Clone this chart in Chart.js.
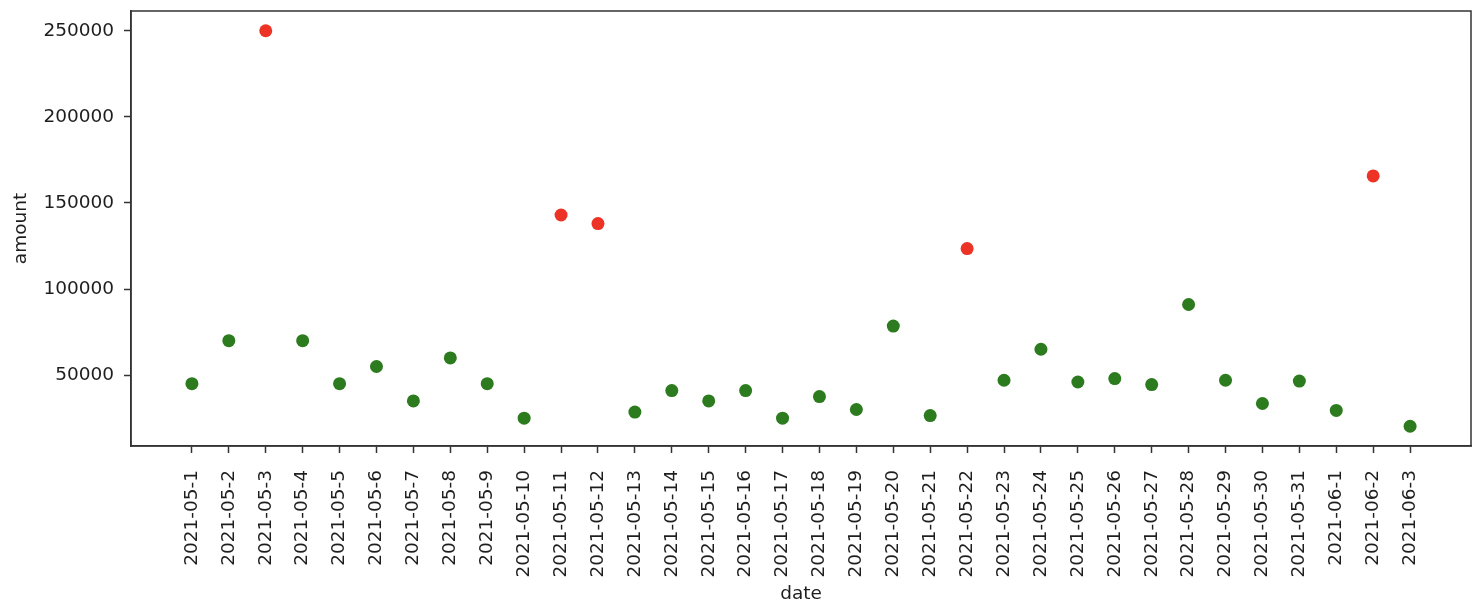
<!DOCTYPE html>
<html>
<head>
<meta charset="utf-8">
<script src="https://cdn.jsdelivr.net/npm/chart.js@4/dist/chart.umd.min.js"></script>
<style>
  html, body { margin: 0; padding: 0; background: #fff; }
  #c { display: block; }
</style>
</head>
<body>
<canvas id="c" width="1480" height="616"></canvas>
<script>
const dates = [
  "2021-05-1","2021-05-2","2021-05-3","2021-05-4","2021-05-5","2021-05-6","2021-05-7",
  "2021-05-8","2021-05-9","2021-05-10","2021-05-11","2021-05-12","2021-05-13","2021-05-14",
  "2021-05-15","2021-05-16","2021-05-17","2021-05-18","2021-05-19","2021-05-20","2021-05-21",
  "2021-05-22","2021-05-23","2021-05-24","2021-05-25","2021-05-26","2021-05-27","2021-05-28",
  "2021-05-29","2021-05-30","2021-05-31","2021-06-1","2021-06-2","2021-06-3"
];
const amounts = [
  45000, 70000, 250000, 70000, 45000, 55000, 35000,
  60000, 45000, 25000, 143000, 138000, 28500, 41000,
  35000, 41000, 25000, 37500, 30000, 78500, 26500,
  123500, 47000, 65000, 46000, 48000, 44500, 91000,
  47000, 33500, 46500, 29500, 165700, 20300
];
const yTickValues = [50000, 100000, 150000, 200000, 250000];
const threshold = 100000;

const RED = '#ec3326';
const GREEN = '#2d7b1f';
const AXIS = '#333333';
const TEXT = '#1e1e1e';
const FONT = 'DejaVu Sans';
const FS = 18.5;

const points = dates.map((d, i) => ({ x: i, y: amounts[i] }));

const frame = {
  id: 'frame',
  afterDatasetsDraw(chart) {
    const { ctx, chartArea: a } = chart;
    ctx.save();
    ctx.strokeStyle = AXIS;
    ctx.lineWidth = 1.5;
    ctx.strokeRect(a.left, a.top, a.right - a.left, a.bottom - a.top);
    ctx.restore();
  }
};

new Chart(document.getElementById('c'), {
  type: 'scatter',
  data: {
    datasets: [{
      data: points,
      pointRadius: 6.5,
      pointHoverRadius: 6.5,
      pointBorderWidth: 0,
      pointBackgroundColor: (ctx) => (ctx.raw && ctx.raw.y > threshold) ? RED : GREEN,
      pointBorderColor: (ctx) => (ctx.raw && ctx.raw.y > threshold) ? RED : GREEN
    }]
  },
  options: {
    responsive: false,
    animation: false,
    devicePixelRatio: 1,
    layout: { padding: { top: 11, right: 9, left: 0, bottom: 0 } },
    plugins: { legend: { display: false }, tooltip: { enabled: false } },
    scales: {
      x: {
        type: 'linear',
        min: -1.65,
        max: dates.length - 1 + 1.65,
        afterBuildTicks(scale) { scale.ticks = dates.map((d, i) => ({ value: i })); },
        afterFit(scale) { scale.height = 170; scale.paddingLeft = 0; scale.paddingRight = 0; },
        ticks: {
          autoSkip: false,
          maxRotation: 90,
          minRotation: 90,
          padding: 17,
          color: TEXT,
          font: { family: FONT, size: FS },
          callback: (v) => dates[v]
        },
        grid: { drawOnChartArea: false, drawTicks: true, tickLength: 7, tickColor: AXIS, tickWidth: 1.5 },
        border: { display: true, color: AXIS, width: 1.5 },
        title: { display: true, text: 'date', color: TEXT, font: { family: FONT, size: FS }, padding: { top: 0, bottom: 11 } }
      },
      y: {
        type: 'linear',
        min: 8815,
        max: 261485,
        afterBuildTicks(scale) { scale.ticks = yTickValues.map(v => ({ value: v })); },
        afterFit(scale) { scale.width = 131; scale.paddingTop = 0; scale.paddingBottom = 0; },
        ticks: {
          padding: 10,
          color: TEXT,
          font: { family: FONT, size: FS },
          callback: (v) => String(v)
        },
        grid: { drawOnChartArea: false, drawTicks: true, tickLength: 7, tickColor: AXIS, tickWidth: 1.5 },
        border: { display: true, color: AXIS, width: 1.5 },
        title: { display: true, text: 'amount', color: TEXT, font: { family: FONT, size: FS }, padding: { top: 10, bottom: 0 } }
      }
    }
  },
  plugins: [frame]
});
</script>
</body>
</html>
